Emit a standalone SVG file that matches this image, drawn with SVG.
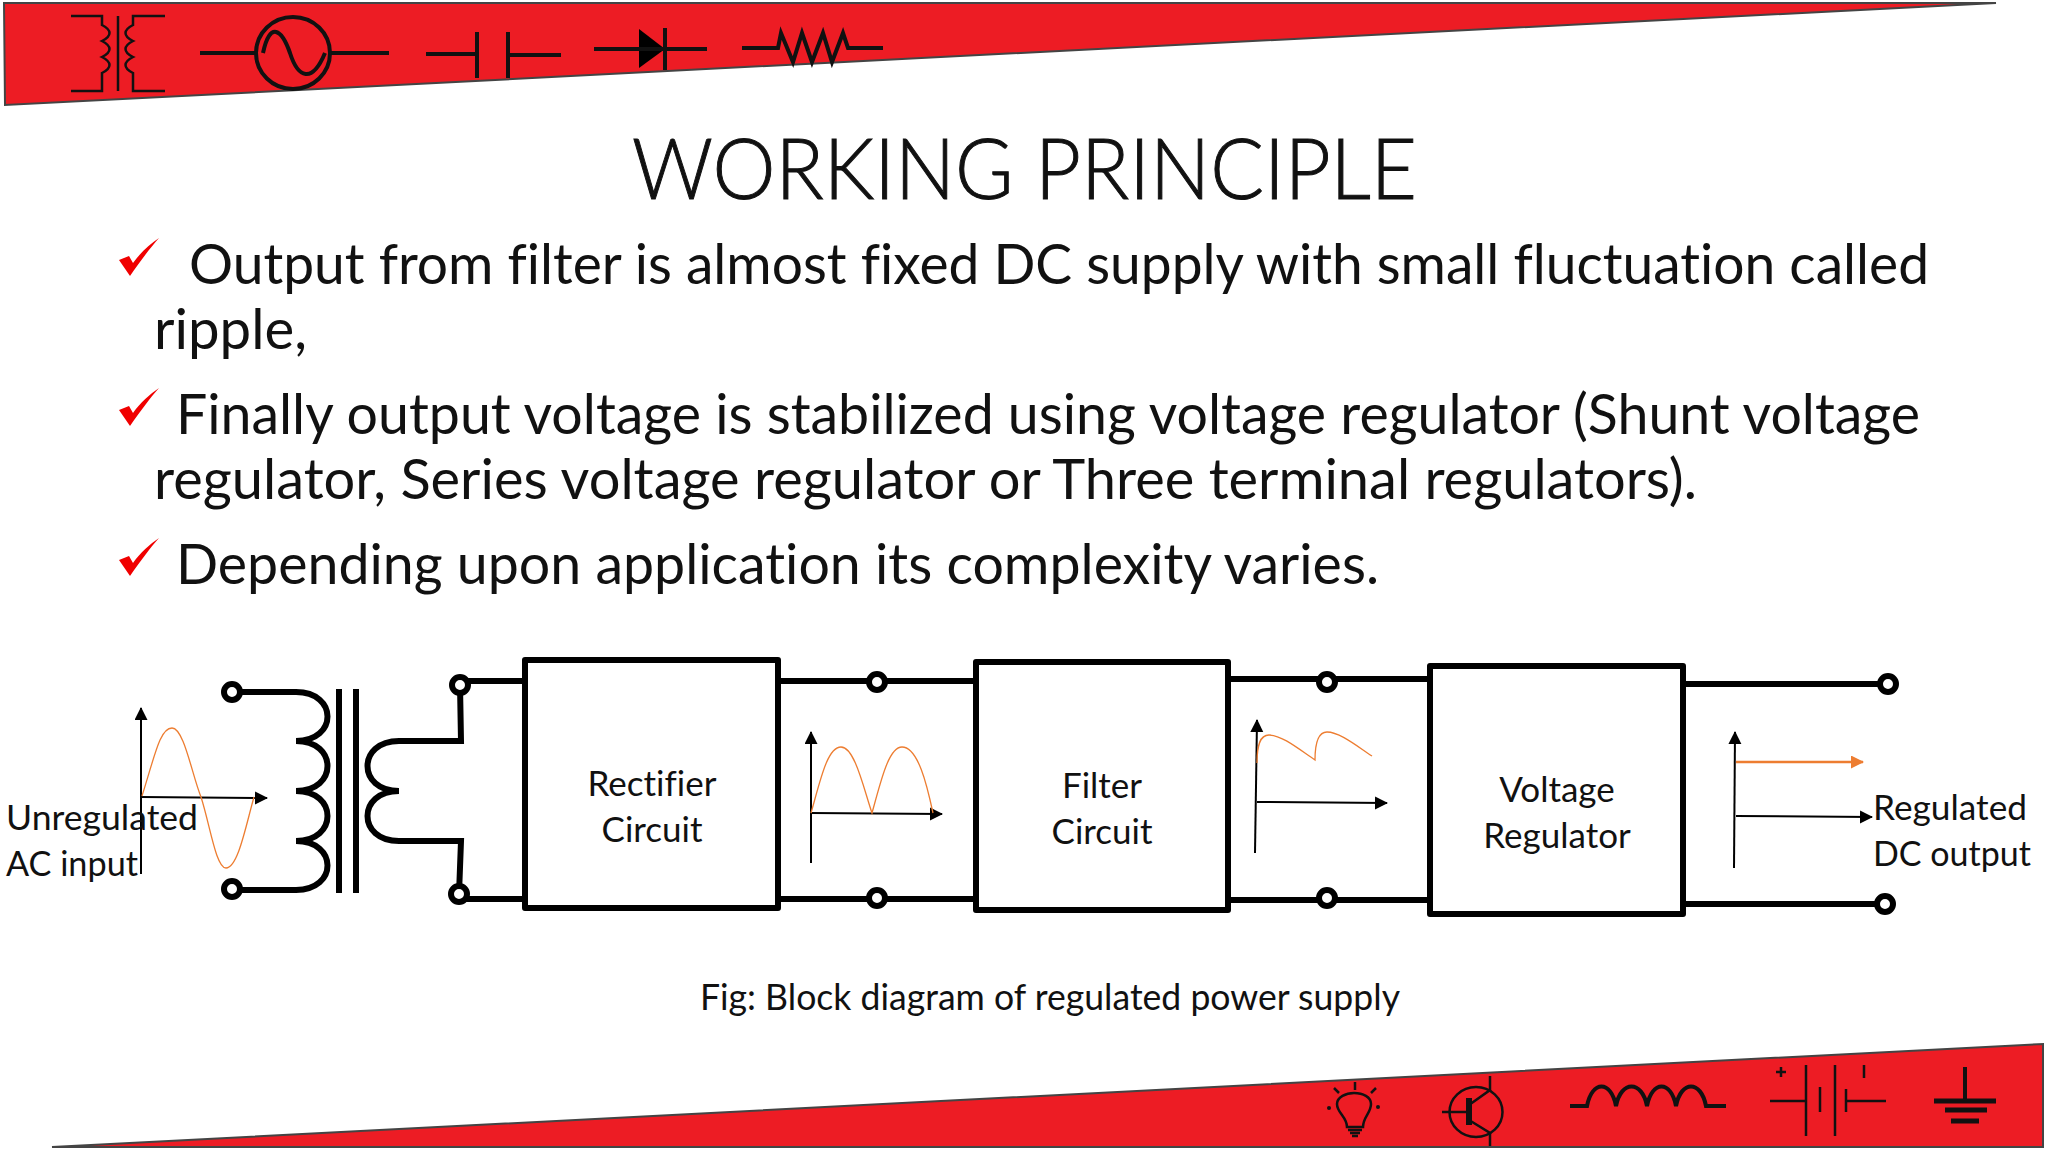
<svg xmlns="http://www.w3.org/2000/svg" width="2048" height="1152" viewBox="0 0 2048 1152">
<style>
text{font-family:"Lato","Carlito","Open Sans",sans-serif;fill:#111;font-variant-ligatures:none}
.t{font-size:35px}
.b{font-size:56px}
.box{fill:#fff;stroke:#000;stroke-width:6;stroke-linejoin:round}
.w{fill:none;stroke:#000;stroke-width:6}
.term{fill:#fff;stroke:#000;stroke-width:6}
.ax{fill:none;stroke:#000;stroke-width:2}
.wave{fill:none;stroke:#ed7d31;stroke-width:1.3}
.i{fill:none;stroke:#111;stroke-width:2.5}
.i2{fill:none;stroke:#111;stroke-width:4}
</style>
<defs>
<marker id="ah" markerUnits="userSpaceOnUse" markerWidth="14" markerHeight="14" refX="12" refY="6.5" orient="auto"><path d="M0 0L13 6.5L0 13Z" fill="#000"/></marker>
<marker id="ao" markerUnits="userSpaceOnUse" markerWidth="14" markerHeight="14" refX="12" refY="6.5" orient="auto"><path d="M0 0L13 6.5L0 13Z" fill="#ed7d31"/></marker>
<path id="chk" d="M119 260L129 256L133 263C140 253 150 244 159 238C150 248 139 263 130 276Z" fill="#f00000"/>
</defs>
<rect width="2048" height="1152" fill="#fff"/>
<g id="top-banner">
<path d="M4 3H1996L5 105Z" fill="#ed1c24" stroke="#444" stroke-width="2"/>
<path class="i" d="M71 16H102V25C112 30 112 36 102 41C112 46 112 52 102 57C112 62 112 68 102 73V91H71M165 16H133V25C123 30 123 36 133 41C123 46 123 52 133 57C123 62 123 68 133 73V91H165M118 16V91"/>
<path class="i2" d="M200 53H257M330 53H389"/>
<ellipse class="i2" cx="293" cy="53" rx="37" ry="36"/>
<path class="i2" d="M263 53C270 20 282 30 290 53C298 78 312 84 325 53"/>
<path class="i2" d="M426 54H477M477 32V78M508 32V78M508 55H561"/>
<path d="M639 29L665 49L639 68Z" fill="#000"/>
<path class="i2" d="M594 49H665M665 28V70M665 49H707"/>
<path class="i2" d="M742 48H778L781 33L793 62L802 33L812 62L823 33L832 62L843 33L848 48H883"/>
</g>
<g id="bottom-banner">
<path d="M52 1147L2043 1044V1147Z" fill="#ed1c24" stroke="#444" stroke-width="2"/>
<path class="i" d="M1347 1127C1347 1117 1337 1113 1337 1104C1337 1097 1346 1093 1354 1093C1363 1093 1371 1097 1371 1104C1371 1113 1363 1117 1363 1127Z"/>
<path class="i" d="M1355 1082V1090M1334 1088L1339 1093M1376 1088L1371 1093M1348 1130H1362M1350 1133H1360M1352 1136H1358"/>
<circle cx="1329" cy="1108" r="2" fill="#111"/><circle cx="1378" cy="1107" r="2" fill="#111"/>
<ellipse class="i" cx="1476" cy="1112" rx="26.5" ry="25"/>
<path class="i" d="M1442 1112H1469M1469 1105L1490 1090V1076M1469 1120L1490 1133V1146"/>
<path d="M1469 1098V1125" stroke="#111" stroke-width="6" fill="none"/>
<path class="i2" d="M1570 1106H1587C1592 1080 1611 1080 1616 1106C1621 1080 1642 1080 1647 1106C1652 1080 1671 1080 1676 1106C1681 1080 1701 1080 1706 1106H1726"/>
<path class="i" d="M1770 1101H1806M1806 1065V1136M1820 1087V1112M1835 1065V1136M1846 1089V1112M1846 1101H1886M1864 1065V1078M1776 1072H1786M1781 1067V1077"/>
<path class="i2" d="M1965 1067V1101"/>
<path d="M1934 1101H1996M1945 1110H1987M1951 1121H1979" fill="none" stroke="#111" stroke-width="5"/>
</g>
<g id="slide-text">
<text x="632" y="199" font-size="84" font-weight="300" stroke="#111" stroke-width="1" textLength="785" lengthAdjust="spacingAndGlyphs">WORKING PRINCIPLE</text>
<use href="#chk"/><use href="#chk" y="150"/><use href="#chk" y="300"/>
<text class="b" x="189" y="284" textLength="1740" lengthAdjust="spacingAndGlyphs">Output from filter is almost fixed DC supply with small fluctuation called</text>
<text class="b" x="154" y="349" textLength="153" lengthAdjust="spacingAndGlyphs">ripple,</text>
<text class="b" x="176" y="434" textLength="1744" lengthAdjust="spacingAndGlyphs">Finally output voltage is stabilized using voltage regulator (Shunt voltage</text>
<text class="b" x="154" y="499" textLength="1543" lengthAdjust="spacingAndGlyphs">regulator, Series voltage regulator or Three terminal regulators).</text>
<text class="b" x="176" y="584" textLength="1203" lengthAdjust="spacingAndGlyphs">Depending upon application its complexity varies.</text>
<text x="700" y="1010" textLength="700" lengthAdjust="spacingAndGlyphs" style="font-size:36px">Fig: Block diagram of regulated power supply</text>
</g>
<g id="connectors">
<path class="w" d="M241 692H296C338 692 338 741 296 741C338 741 338 791 296 791C338 791 338 841 296 841C338 841 338 890 296 890H241"/>
<path class="w" d="M339 689V893M356 689V893"/>
<path class="w" d="M460 685L461 741H399C357 741 357 791 399 791C357 791 357 841 399 841H461L459 894"/>
<path class="w" d="M460 681H525M459 899H525M778 681H976M778 899H976M1228 679H1430M1228 900H1430M1683 684H1889M1683 904H1885"/>
<path class="ax" d="M141 874V708" marker-end="url(#ah)"/>
<path class="ax" d="M141 797L267 798" marker-end="url(#ah)"/>
<path class="wave" d="M142 796C155 755 160 728 172 728C184 728 192 775 201 797C210 825 216 868 226 868C238 868 246 825 254 797"/>
<path class="ax" d="M811 863V732" marker-end="url(#ah)"/>
<path class="ax" d="M811 813L942 814" marker-end="url(#ah)"/>
<path class="wave" d="M811 813C820 782 827 747 841 747C855 747 864 790 872 813C880 785 888 747 902 747C918 747 927 785 933 813"/>
<path class="ax" d="M1255 853L1257 720" marker-end="url(#ah)"/>
<path class="ax" d="M1257 802L1387 803" marker-end="url(#ah)"/>
<path class="wave" d="M1257 763C1257 745 1260 735 1269 735C1282 735 1300 750 1315 760C1315 745 1317 732 1327 732C1340 732 1358 747 1372 756"/>
<path class="ax" d="M1734 868L1735 732" marker-end="url(#ah)"/>
<path class="ax" d="M1736 816L1872 817" marker-end="url(#ah)"/>
<path d="M1736 762H1863" fill="none" stroke="#ed7d31" stroke-width="2.5" marker-end="url(#ao)"/>
</g>
<g id="terminals">
<circle class="term" cx="232" cy="692" r="8"/><circle class="term" cx="232" cy="889" r="8"/>
<circle class="term" cx="460" cy="685" r="8"/><circle class="term" cx="459" cy="894" r="8"/>
<circle class="term" cx="877" cy="682" r="8"/><circle class="term" cx="877" cy="898" r="8"/>
<circle class="term" cx="1327" cy="682" r="8"/><circle class="term" cx="1327" cy="898" r="8"/>
<circle class="term" cx="1888" cy="684" r="8"/><circle class="term" cx="1885" cy="904" r="8"/>
</g>
<g id="rectifier"><rect class="box" x="525" y="660" width="253" height="248"/>
<text class="t" x="652" y="796" text-anchor="middle">Rectifier</text><text class="t" x="652" y="842" text-anchor="middle">Circuit</text></g>
<g id="filter"><rect class="box" x="976" y="662" width="252" height="248"/>
<text class="t" x="1102" y="798" text-anchor="middle">Filter</text><text class="t" x="1102" y="844" text-anchor="middle">Circuit</text></g>
<g id="regulator"><rect class="box" x="1430" y="666" width="253" height="248"/>
<text class="t" x="1557" y="802" text-anchor="middle">Voltage</text><text class="t" x="1557" y="848" text-anchor="middle">Regulator</text></g>
<g id="labels">
<text class="t" x="6" y="830" textLength="192" lengthAdjust="spacingAndGlyphs">Unregulated</text>
<text class="t" x="6" y="876" textLength="132" lengthAdjust="spacingAndGlyphs">AC input</text>
<text class="t" x="1873" y="820" textLength="154" lengthAdjust="spacingAndGlyphs">Regulated</text>
<text class="t" x="1873" y="866" textLength="158" lengthAdjust="spacingAndGlyphs">DC output</text>
</g>
</svg>
